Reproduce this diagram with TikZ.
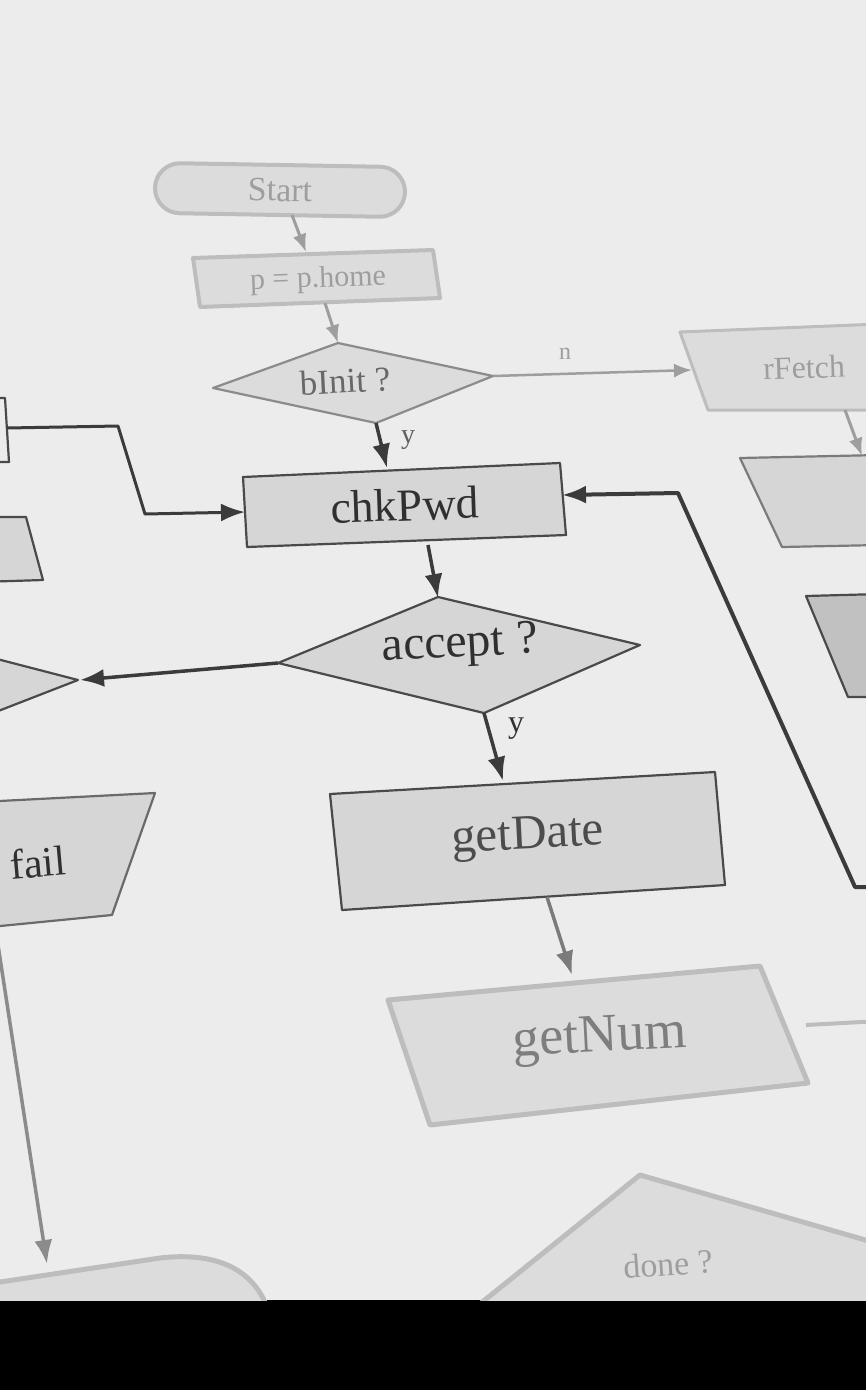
\documentclass[tikz,border=0pt]{standalone}
\usepackage{fontspec}
\setmainfont{Liberation Serif}
\usetikzlibrary{arrows.meta}

\definecolor{paper}{HTML}{ECECEC}
\definecolor{boxfill}{HTML}{D6D6D6}
\definecolor{softfill}{HTML}{DCDCDC}
\definecolor{edge}{HTML}{4A4A4A}
\definecolor{softedge}{HTML}{BDBDBD}
\definecolor{ink}{HTML}{303030}
\definecolor{softink}{HTML}{9E9E9E}

\begin{document}
\begin{tikzpicture}[x=1pt, y=-1pt,
    box/.style ={fill=boxfill, draw=edge, line width=2.2pt, line join=round},
    softbox/.style ={fill=softfill, draw=softedge, line width=4pt, line join=round},
    txt/.style ={text=ink, inner sep=0pt},
    softtxt/.style ={text=softink, inner sep=0pt},
    flow/.style ={draw=edge!80!black, line width=3.5pt, line join=round,
      -{Latex[length=24pt, width=18pt]}},
    softflow/.style ={draw=softink, line width=3pt, line join=round,
      -{Latex[length=18pt, width=14pt]}}]
   \useasboundingbox (0,0) rectangle (866,1390);
   \fill[paper] (0,0) rectangle (866,1300);
   \fill[black] (0,1300) rectangle (866,1390);
   \begin{scope}
   \clip (0,0) rectangle (866,1300);
   % top, out of focus
   \node[softbox, softtxt, rounded corners=25pt, minimum width=250pt,
     minimum height=50pt, rotate=-1, font=\fontsize{34}{36}\selectfont]
     (start) at (280,190) {Start};
   \filldraw[softbox] (193,258) -- (433,250) -- (440,298) -- (200,307) -- cycle;
   \node[softtxt, rotate=2, font=\fontsize{30}{32}\selectfont] (p) at (318,280) {p = p.home};
   \filldraw[box, draw=edge!60!paper, fill=softfill] (213,388) -- (338,343) -- (493,376) -- (376,423) -- cycle;
   \node[txt, text=ink!70!paper, rotate=3, font=\fontsize{35}{37}\selectfont] (binit) at (345,381) {bInit ?};
   \filldraw[softbox, line width=3pt] (680,332) -- (880,324) -- (880,410) -- (708,410) -- cycle;
   \node[softtxt, anchor=west, rotate=2, font=\fontsize{32}{34}\selectfont] (rfetch) at (763,369) {rFetch};
   \node[softtxt, font=\fontsize{24}{26}\selectfont] (no) at (565,354) {n};
   % right column
   \filldraw[box, draw=edge!70!paper] (740,458) -- (880,455) -- (880,545) -- (782,547) -- cycle;
   \filldraw[box, fill=boxfill!90!black] (806,596) -- (880,594) -- (880,697) -- (848,697) -- cycle;
   % middle
   \filldraw[box] (243,477) -- (560,463) -- (566,535) -- (247,547) -- cycle;
   \node[txt, rotate=2, font=\fontsize{46}{48}\selectfont] (chk) at (405,505) {chkPwd};
   \filldraw[box] (278,663) -- (438,597) -- (640,645) -- (484,713) -- cycle;
   \node[txt, rotate=3, font=\fontsize{48}{50}\selectfont] (accept) at (460,646) {accept ?};
   \filldraw[box] (330,794) -- (715,772) -- (725,885) -- (342,910) -- cycle;
   \node[txt, text=ink!85!paper, rotate=3, font=\fontsize{49}{51}\selectfont] (getdate) at (528,838) {getDate};
   % left column
   \filldraw[box, fill=paper] (-40,398) -- (5,398) -- (9,462) -- (-40,462) -- cycle;
   \filldraw[box] (-20,517) -- (26,517) -- (43,580) -- (-20,582) -- cycle;
   \filldraw[box] (78,680) -- (-30,652) -- (-30,722) -- cycle;
   \filldraw[box, draw=edge!80!paper] (-20,802) -- (155,793) -- (112,915) -- (-20,928) -- cycle;
   \node[txt, anchor=east, rotate=5, font=\fontsize{42}{44}\selectfont] (fail) at (66,860) {fail};
   % bottom, out of focus
   \filldraw[softbox, line width=5pt] (388,1000) -- (760,966) -- (808,1083) -- (430,1125) -- cycle;
   \node[softtxt, text=softink!80!black, rotate=3, font=\fontsize{54}{56}\selectfont] (getnum) at (600,1040) {getNum};
   \filldraw[softbox, line width=5pt] (-20,1285) -- (160,1258)
     .. controls (230,1250) and (258,1280) .. (268,1310) -- (-20,1310) -- cycle;
   \filldraw[softbox, line width=5pt] (460,1320) -- (640,1175) -- (900,1250) -- (900,1320) -- cycle;
   \node[softtxt, rotate=4, font=\fontsize{34}{36}\selectfont] (done) at (668,1264) {done ?};
   % connector ends
   \coordinate (start-s) at (292,215);
   \coordinate (p-n) at (306,252);
   \coordinate (p-s) at (325,303);
   \coordinate (binit-n) at (338,343);
   \coordinate (binit-e) at (493,376);
   \coordinate (binit-s) at (376,423);
   \coordinate (rfetch-w) at (692,370);
   \coordinate (rfetch-s) at (845,410);
   \coordinate (right-n) at (862,456);
   \coordinate (chk-n) at (387,468);
   \coordinate (chk-s) at (428,545);
   \coordinate (chk-w) at (245,512);
   \coordinate (chk-e) at (562,495);
   \coordinate (accept-n) at (438,598);
   \coordinate (accept-w) at (278,663);
   \coordinate (accept-s) at (484,713);
   \coordinate (left-e) at (80,680);
   \coordinate (getdate-n) at (503,781);
   \coordinate (getdate-s) at (547,897);
   \coordinate (getnum-n) at (572,975);
   \coordinate (getnum-e) at (806,1025);
   \coordinate (end-n) at (47,1264);
   \draw[softflow] (start-s) to (p-n);
   \draw[softflow] (p-s) to (binit-n);
   \draw[softflow, line width=2.5pt] (binit-e) to (rfetch-w);
   \draw[softflow] (rfetch-s) to (right-n);
   \draw[flow] (binit-s) to (chk-n);
   \node[txt, text=ink!75!paper, font=\fontsize{28}{30}\selectfont] (yes1) at (408,440) {y};
   \draw[flow] (chk-s) to (accept-n);
   \draw[flow] (accept-w) to (left-e);
   \draw[flow] (accept-s) to (getdate-n);
   \node[txt, font=\fontsize{32}{34}\selectfont] (yes2) at (516,729) {y};
   \draw[flow, draw=edge!70!paper] (getdate-s) to (getnum-n);
   \draw[flow, line width=3pt] (7,428) -- (118,426) -- (145,514) -- (chk-w);
   \draw[flow, line width=4pt] (880,887) -- (855,887) -- (678,493) -- (chk-e);
   \draw[softedge, line width=4pt] (getnum-e) -- (880,1021);
   \draw[flow, draw=edge!60!paper] (-2,945) -- (end-n);
   \end{scope}
 \end{tikzpicture}
\end{document}
